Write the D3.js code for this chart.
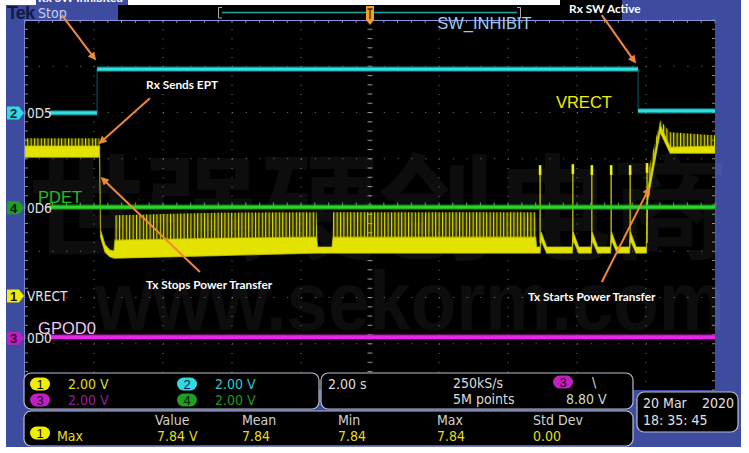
<!DOCTYPE html>
<html><head><meta charset="utf-8">
<script src="https://cdn.jsdelivr.net/npm/d3@7/dist/d3.min.js"></script>
<style>
html,body{margin:0;padding:0;background:#fff;}
svg{display:block;}
</style></head><body>
<svg id="c" width="749" height="453"></svg>
<script>
// ================= DATA =================
// Horizontal: 2.00 s/div, 10 divisions, trigger at centre (seconds)
const timeDomain = [-10, 10];
const divDomain = [-4, 4];

// Channels: index 0..3 -> ch1..ch4
const chNames      = ["1", "2", "3", "4"];
const chLabels     = ["VRECT", "0D5", "0D0", "0D6"];
const chScaleText  = ["2.00 V", "2.00 V", "2.00 V", "2.00 V"];
const voltsPerDiv  = [2, 2, 2, 2];
const chOffsetDiv  = [-1.97, 1.99, -2.88, -0.06];

// ch1 VRECT: envelope of the displayed waveform (volts)
const vrectT     = [-10, -7.84, -7.81, -7.68, -7.54, -7.42, -7.39, -4.50, -1.55, -1.52, -1.10, -1.07, 2.00, 4.80, 4.83, 4.93, 4.96, 5.12, 5.86, 5.89, 6.05, 6.41, 6.44, 6.60, 6.97, 7.00, 7.16, 7.52, 7.55, 7.71, 8.01, 8.05, 8.41, 8.70, 10];
const vrectSpike = [6.83, 6.83, 2.85, 2.21, 1.99, 1.95, 3.50, 3.60, 3.63, 2.12, 2.12, 3.63, 3.63, 3.63, 2.12, 2.12, 2.77, 2.12, 2.12, 2.77, 2.12, 2.12, 2.77, 2.12, 2.12, 2.77, 2.12, 2.12, 2.77, 2.12, 2.12, 5.32, 7.61, 7.09, 6.96];
const vrectTop   = [6.49, 6.49, 2.85, 2.21, 1.99, 1.95, 2.42, 2.50, 2.55, 2.12, 2.12, 2.55, 2.55, 2.55, 2.12, 2.12, 2.77, 2.12, 2.12, 2.77, 2.12, 2.12, 2.77, 2.12, 2.12, 2.77, 2.12, 2.12, 2.77, 2.12, 2.12, 4.60, 7.40, 6.44, 6.49];
const vrectBot   = [6.01, 6.01, 2.55, 1.90, 1.70, 1.64, 1.64, 1.75, 1.86, 1.86, 1.86, 1.86, 1.86, 1.86, 1.86, 1.86, 2.42, 1.86, 1.86, 2.42, 1.86, 1.86, 2.42, 1.86, 1.86, 2.42, 1.86, 1.86, 2.42, 1.86, 1.86, 4.15, 7.09, 6.18, 6.18];
// Ping pulses while Tx is off
const vrectPulseT    = [4.93, 5.88, 6.43, 6.99, 7.54, 8.03];
const vrectPulsePeak = [5.66, 5.70, 5.66, 5.66, 5.66, 5.75];

// ch2 SW_INHIBIT
const swInhT = [-10, -7.91, -7.91, 7.77, 7.77, 10];
const swInhV = [0, 0, 1.90, 1.90, 0.09, 0.09];
// ch4 PDET
const pdetT = [-10, 10];
const pdetV = [0.03, 0.03];
// ch3 GPOD0
const gpodT = [-10, 10];
const gpodV = [0.05, 0.05];

// On-screen trace names (time s, ch1 volts)
const nameText  = ["SW_INHIBIT", "VRECT", "PDET", "GPOD0"];
const nameT     = [1.95, 5.39, -9.62, -9.62];
const nameV     = [11.55, 8.13, 4.01, -1.64];
const nameColor = ["#9cc8f2", "#f2f200", "#22c022", "#f0c8f0"];

// Annotations (time s, ch1 volts)
const annText = ["Rx SW Inhibited", "Rx Sends EPT", "Tx Stops Power Transfer", "Tx Starts Power Transfer", "Rx SW Active"];
const annT    = [-9.62, -6.49, -6.49, 4.58, 5.77];
const annV    = [12.72, 8.95, 0.30, -0.22, 12.26];
const arrFromT = [-8.93, -6.38, -4.93, 6.72, 6.72];
const arrFromV = [12.15, 8.56, 1.04, 0.61, 12.15];
const arrToT   = [-7.97, -7.83, -7.77, 8.09, 7.68];
const arrToV   = [10.25, 6.62, 5.10, 4.67, 10.12];

// Readouts
const horizText = ["2.00 s", "250kS/s", "5M points"];
const trigLevelText = "8.80 V";
const measHeaders = ["Value", "Mean", "Min", "Max", "Std Dev"];
const measValues  = ["7.84 V", "7.84", "7.84", "7.84", "0.00"];
const measName = "Max";
const dateText = ["20 Mar", "2020", "18: 35: 45"];
const watermarkText = ["世强硬创电商", "www.sekorm.com"];

// ================= DRAW =================
const svg = d3.select('#c');
const x = d3.scaleLinear().domain(timeDomain).range([25, 715]);
const yDiv = d3.scaleLinear().domain(divDomain).range([390, 20]);
const yV = (ch, v) => yDiv(chOffsetDiv[ch] + v / voltsPerDiv[ch]);

const BLUE = '#3d4c9f';
const NARROW = '"Liberation Sans Narrow","DejaVu Sans Condensed","Arial Narrow",sans-serif';
const SANS = '"Liberation Sans",Arial,sans-serif';
const ANN = 'Lato,"Open Sans",sans-serif';

svg.append('rect').attr('width', 749).attr('height', 453).attr('fill', '#fff');
svg.append('rect').attr('x', 6).attr('y', 5).attr('width', 735).attr('height', 442).attr('fill', BLUE);
svg.append('rect').attr('x', 621).attr('y', 0).attr('width', 120).attr('height', 5).attr('fill', BLUE);
svg.append('rect').attr('x', 36).attr('y', 0).attr('width', 92).attr('height', 5).attr('fill', BLUE);
svg.append('rect').attr('x', 118).attr('y', 5).attr('width', 503).attr('height', 15).attr('fill', '#000');
svg.append('rect').attr('x', 560).attr('y', 0).attr('width', 62).attr('height', 20).attr('fill', '#000');

// header
svg.append('text').attr('x', 7).attr('y', 19).text('Tek')
  .attr('font-family', SANS).attr('font-weight', 'bold').attr('font-size', 18).attr('fill', '#111a48').attr('letter-spacing', -0.8);
svg.append('text').attr('x', 38).attr('y', 18).text('Stop')
  .attr('font-family', NARROW).attr('font-size', 14).attr('fill', '#c8d0f4');
// record view
svg.append('line').attr('x1', 222).attr('x2', 517).attr('y1', 12.5).attr('y2', 12.5).attr('stroke', '#1aa6a6').attr('stroke-width', 1.5);
svg.append('path').attr('d', 'M222,7.5 L218.5,7.5 L218.5,18 L222,18').attr('fill', 'none').attr('stroke', '#aaa').attr('stroke-width', 1);
svg.append('path').attr('d', 'M517,7.5 L520.5,7.5 L520.5,18 L517,18').attr('fill', 'none').attr('stroke', '#aaa').attr('stroke-width', 1);

// plot area
const defs = svg.append('defs');
defs.append('clipPath').attr('id', 'clipPlot').append('rect')
  .attr('x', x(-10)).attr('y', yDiv(4)).attr('width', x(10) - x(-10)).attr('height', yDiv(-4) - yDiv(4));
const pat = defs.append('pattern').attr('id', 'comb').attr('patternUnits', 'userSpaceOnUse')
  .attr('width', 3.4).attr('height', 6);
pat.append('rect').attr('width', 3.4).attr('height', 6).attr('fill', 'rgba(200,200,0,0.22)');
pat.append('rect').attr('width', 1.1).attr('height', 6).attr('fill', '#e0e000');

svg.append('rect').attr('x', x(-10)).attr('y', yDiv(4)).attr('width', x(10) - x(-10)).attr('height', yDiv(-4) - yDiv(4))
  .attr('fill', '#000');

const grid = svg.append('g');
const gx = x.ticks(10), gy = yDiv.ticks(8);
grid.selectAll('.vg').data(gx.slice(1, -1)).join('line')
  .attr('x1', d => x(d)).attr('x2', d => x(d)).attr('y1', yDiv(4)).attr('y2', yDiv(-4))
  .attr('stroke', '#7a7a7a').attr('stroke-width', 1).attr('stroke-dasharray', '1,8.25');
grid.selectAll('.hg').data(gy.slice(1, -1)).join('line')
  .attr('x1', x(-10)).attr('x2', x(10)).attr('y1', d => yDiv(d)).attr('y2', d => yDiv(d))
  .attr('stroke', '#7a7a7a').attr('stroke-width', 1).attr('stroke-dasharray', '1,12.8');
const minorX = d3.range(timeDomain[0], timeDomain[1] + 0.001, 0.4);
const minorY = d3.range(divDomain[0], divDomain[1] + 0.001, 0.2);
grid.selectAll('.mx').data(minorX).join('line')
  .attr('x1', d => x(d)).attr('x2', d => x(d)).attr('y1', yDiv(0) - 2.5).attr('y2', yDiv(0) + 2.5)
  .attr('stroke', '#8a8a8a').attr('stroke-width', 1);
grid.selectAll('.my').data(minorY).join('line')
  .attr('x1', x(0) - 2.5).attr('x2', x(0) + 2.5).attr('y1', d => yDiv(d)).attr('y2', d => yDiv(d))
  .attr('stroke', '#8a8a8a').attr('stroke-width', 1);
grid.selectAll('.tx').data(minorX).join('line')
  .attr('x1', d => x(d)).attr('x2', d => x(d)).attr('y1', yDiv(4)).attr('y2', yDiv(4) + 3)
  .attr('stroke', '#8a8a8a');
grid.selectAll('.ty').data(minorY).join('line')
  .attr('x1', x(-10)).attr('x2', x(-10) + 3).attr('y1', d => yDiv(d)).attr('y2', d => yDiv(d))
  .attr('stroke', '#8a8a8a');
grid.selectAll('.ty2').data(minorY).join('line')
  .attr('x1', x(10) - 3).attr('x2', x(10)).attr('y1', d => yDiv(d)).attr('y2', d => yDiv(d))
  .attr('stroke', '#8a8a8a');
svg.append('line').attr('x1', x(-10)).attr('x2', x(10)).attr('y1', yDiv(4) + 0.5).attr('y2', yDiv(4) + 0.5)
  .attr('stroke', '#8c96e0').attr('stroke-width', 1.2);
svg.append('line').attr('x1', x(-10) - 0.5).attr('x2', x(-10) - 0.5).attr('y1', yDiv(4)).attr('y2', yDiv(-4))
  .attr('stroke', '#7c88cc').attr('stroke-width', 1);

// watermark (under the traces, very faint)
const wm = svg.append('g').attr('fill', '#fff').attr('fill-opacity', 0.05).attr('font-weight', 'bold');
wm.append('text').attr('x', 28).attr('y', 250).text(watermarkText[0])
  .attr('font-family', '"Noto Sans CJK SC",sans-serif').attr('font-size', 115)
  .attr('textLength', 700).attr('lengthAdjust', 'spacingAndGlyphs');
wm.append('text').attr('x', 95).attr('y', 330).text(watermarkText[1])
  .attr('font-family', SANS).attr('font-size', 84)
  .attr('textLength', 630).attr('lengthAdjust', 'spacingAndGlyphs');

// traces
const tr = svg.append('g').attr('clip-path', 'url(#clipPlot)');

const vr = vrectT.map((t, i) => ({ t, s: vrectSpike[i], top: vrectTop[i], bot: vrectBot[i] }));
const combArea = d3.area().x(d => x(d.t)).y0(d => yV(0, d.top)).y1(d => yV(0, d.s));
const bandArea = d3.area().x(d => x(d.t)).y0(d => yV(0, d.bot)).y1(d => yV(0, d.top));
tr.append('path').attr('d', combArea(vr)).attr('fill', 'url(#comb)');
tr.append('path').attr('d', bandArea(vr)).attr('fill', '#e4e200').attr('stroke', '#cfcf00').attr('stroke-width', 1.2).attr('stroke-opacity', 0.7);
tr.selectAll('.pl').data(vrectPulseT).join('line')
  .attr('x1', d => x(d)).attr('x2', d => x(d))
  .attr('y1', yV(0, 2.3)).attr('y2', (d, i) => yV(0, vrectPulsePeak[i]))
  .attr('stroke', '#d6d600').attr('stroke-width', 1.2);
tr.selectAll('.pd').data(vrectPulseT).join('line')
  .attr('x1', d => x(d)).attr('x2', d => x(d))
  .attr('y1', (d, i) => yV(0, vrectPulsePeak[i] - 0.42)).attr('y2', (d, i) => yV(0, vrectPulsePeak[i]))
  .attr('stroke', '#f0f000').attr('stroke-width', 2.6);

function drawTrace(ch, ts, vs, core, glow, w) {
  for (let i = 0; i < ts.length - 1; i++) {
    const x1 = x(ts[i]), x2 = x(ts[i + 1]), y1 = yV(ch, vs[i]), y2 = yV(ch, vs[i + 1]);
    if (ts[i] === ts[i + 1]) {
      tr.append('line').attr('x1', x1).attr('x2', x2).attr('y1', y1).attr('y2', y2)
        .attr('stroke', glow).attr('stroke-width', 1).attr('stroke-opacity', 0.6);
    } else {
      tr.append('line').attr('x1', x1).attr('x2', x2).attr('y1', y1).attr('y2', y2)
        .attr('stroke', glow).attr('stroke-width', w + 2.5).attr('stroke-opacity', 0.55);
      tr.append('line').attr('x1', x1).attr('x2', x2).attr('y1', y1).attr('y2', y2)
        .attr('stroke', core).attr('stroke-width', w);
    }
  }
}
drawTrace(1, swInhT, swInhV, '#2ee0e0', '#0f9fa6', 3.2);
drawTrace(3, pdetT, pdetV, '#2ed42e', '#139a13', 3.2);
drawTrace(2, gpodT, gpodV, '#e42ae4', '#a010a6', 3.8);

// trigger marker
const tx0 = x(0);
svg.append('path').attr('d', `M${tx0 - 4},6 L${tx0 + 4},6 L${tx0 + 4},20 L${tx0},25 L${tx0 - 4},20 Z`).attr('fill', '#f0a020');
svg.append('path').attr('d', `M${tx0 - 2.5},9 L${tx0 + 2.5},9 M${tx0},9 L${tx0},19`).attr('stroke', '#3a2000').attr('stroke-width', 1.3);

// channel markers & labels
const markerData = [1, 3, 0, 2];
const badgeFill = ['#f0ee00', '#33d8e0', '#c020c0', '#20a020'];
const badgeText = ['#111', '#0a1a40', '#300030', '#001800'];
const ml = svg.append('g');
markerData.forEach(ch => {
  const yy = yDiv(chOffsetDiv[ch]);
  ml.append('path').attr('d', `M7,${yy - 6.5} L19,${yy - 6.5} L24,${yy} L19,${yy + 6.5} L7,${yy + 6.5} Z`)
    .attr('fill', badgeFill[ch]);
  ml.append('text').attr('x', 13.5).attr('y', yy + 5).attr('text-anchor', 'middle').text(chNames[ch])
    .attr('font-family', SANS).attr('font-weight', 'bold').attr('font-size', 13).attr('fill', badgeText[ch]);
  ml.append('rect').attr('x', 25.5).attr('y', yy - 7).attr('width', ch === 0 ? 38 : 24).attr('height', 14).attr('fill', '#000');
  ml.append('text').attr('x', 27).attr('y', yy + 5).text(chLabels[ch])
    .attr('font-family', NARROW).attr('font-size', 13.5).attr('fill', '#e4e4e4');
});

// trace names
svg.selectAll('.nm').data(nameText).join('text')
  .attr('x', (d, i) => x(nameT[i])).attr('y', (d, i) => yV(0, nameV[i])).text(d => d)
  .attr('font-family', SANS).attr('font-size', 16.5).attr('fill', (d, i) => nameColor[i]);

// bottom readouts
const rd = svg.append('g').attr('font-family', NARROW).attr('font-size', 14);
function box(xx, yy, w, h) {
  rd.append('rect').attr('x', xx).attr('y', yy).attr('width', w).attr('height', h).attr('rx', 7)
    .attr('fill', '#000').attr('stroke', '#b8bcd0').attr('stroke-width', 1.2);
}
box(24, 373, 295, 36);
box(321, 373, 312, 36);
box(24, 411, 609, 35);
box(637, 392, 101, 40);

function badge(cx, cy, ch) {
  rd.append('rect').attr('x', cx - 10).attr('y', cy - 6.5).attr('width', 20).attr('height', 13).attr('rx', 6.5)
    .attr('fill', badgeFill[ch]);
  rd.append('text').attr('x', cx).attr('y', cy + 5).attr('text-anchor', 'middle').text(chNames[ch])
    .attr('font-family', SANS).attr('font-size', 13).attr('fill', badgeText[ch]);
}
const scaleColor = ['#e2dc20', '#2ec8cc', '#9a189a', '#1c9c1c'];
const scalePos = [[40, 384, 68, 389], [187, 384, 215, 389], [40, 400, 68, 405], [187, 400, 215, 405]];
[0, 1, 2, 3].forEach(ch => {
  const p = scalePos[ch];
  badge(p[0], p[1], ch);
  rd.append('text').attr('x', p[2]).attr('y', p[3]).text(chScaleText[ch]).attr('fill', scaleColor[ch]);
});
rd.append('text').attr('x', 328).attr('y', 389).text(horizText[0]).attr('fill', '#dcdcdc');
rd.append('text').attr('x', 453).attr('y', 388).text(horizText[1]).attr('fill', '#dcdcdc');
rd.append('text').attr('x', 453).attr('y', 404).text(horizText[2]).attr('fill', '#dcdcdc');
badge(563, 382, 2);
rd.append('text').attr('x', 592).attr('y', 387).text('\\').attr('fill', '#dcdcdc');
rd.append('text').attr('x', 566).attr('y', 404).text(trigLevelText).attr('fill', '#c8dcc8');
const measX = [155, 242, 338, 437, 533];
rd.selectAll('.mh').data(measHeaders).join('text')
  .attr('x', (d, i) => measX[i]).attr('y', 425).text(d => d).attr('fill', '#d0d0d0');
rd.selectAll('.mv').data(measValues).join('text')
  .attr('x', (d, i) => measX[i] + (i === 0 ? 2 : 0)).attr('y', 441).text(d => d).attr('fill', '#e2dc20');
badge(40, 433, 0);
rd.append('text').attr('x', 57).attr('y', 441).text(measName).attr('fill', '#e2dc20');
rd.append('text').attr('x', 643).attr('y', 408).text(dateText[0]).attr('fill', '#e0e0e0');
rd.append('text').attr('x', 734).attr('y', 408).attr('text-anchor', 'end').text(dateText[1]).attr('fill', '#e0e0e0');
rd.append('text').attr('x', 643).attr('y', 425).text(dateText[2]).attr('fill', '#e0e0e0');

// annotations
defs.append('marker').attr('id', 'ah').attr('viewBox', '0 0 10 10').attr('refX', 8).attr('refY', 5)
  .attr('markerWidth', 4.5).attr('markerHeight', 4).attr('orient', 'auto').attr('markerUnits', 'strokeWidth')
  .append('path').attr('d', 'M0,0 L10,5 L0,10 Z').attr('fill', '#f0883c');
svg.selectAll('.ar').data(arrFromT).join('line')
  .attr('x1', d => x(d)).attr('y1', (d, i) => yV(0, arrFromV[i]))
  .attr('x2', (d, i) => x(arrToT[i])).attr('y2', (d, i) => yV(0, arrToV[i]))
  .attr('stroke', '#f0883c').attr('stroke-width', 2).attr('marker-end', 'url(#ah)');
svg.selectAll('.an').data(annText).join('text')
  .attr('x', (d, i) => x(annT[i])).attr('y', (d, i) => yV(0, annV[i])).text(d => d)
  .attr('font-family', ANN).attr('font-weight', 'bold').attr('font-size', 11.8).attr('fill', '#fff');
</script>
</body></html>
